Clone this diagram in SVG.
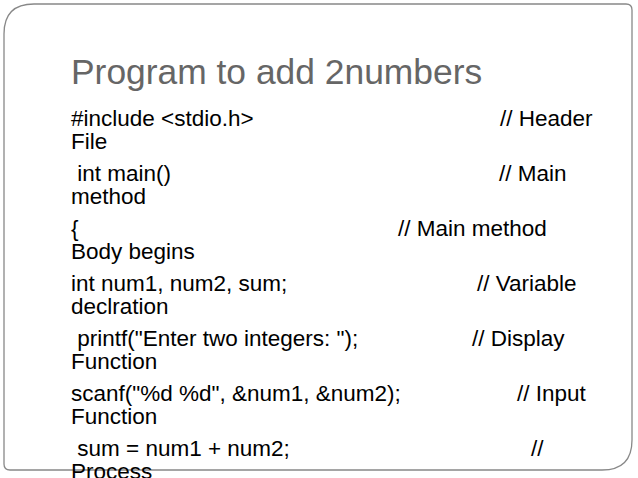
<svg xmlns="http://www.w3.org/2000/svg" width="638" height="478" viewBox="0 0 638 478">
<style>
.t{font-family:"Liberation Sans",Arial,sans-serif;font-size:35.4px;fill:#666}
.b{font-family:"Liberation Sans",Arial,sans-serif;font-size:22.5px;fill:#000;white-space:pre}
</style>
<rect width="638" height="478" fill="#fff"/>
<path d="M34 4 H626 Q632 4 632 10 V440 Q632 470 602 470 H10 Q4 470 4 464 V34 Q4 4 34 4 Z" fill="#fff" stroke="#888" stroke-width="1.3"/>
<g id="title"><text class="t" x="71" y="84">Program to add 2numbers</text></g>
<g id="body">
<text class="b" x="71" y="126">#include &lt;stdio.h&gt;</text><text class="b" x="500" y="126">// Header</text>
<text class="b" x="71" y="149">File</text>
<text class="b" x="71" y="181"> int main()</text><text class="b" x="499" y="181">// Main</text>
<text class="b" x="71" y="204">method</text>
<text class="b" x="71" y="236">{</text><text class="b" x="398" y="236">// Main method</text>
<text class="b" x="71" y="259">Body begins</text>
<text class="b" x="71" y="291">int num1, num2, sum;</text><text class="b" x="477" y="291">// Variable</text>
<text class="b" x="71" y="314">declration</text>
<text class="b" x="71" y="346"> printf("Enter two integers: ");</text><text class="b" x="472" y="346">// Display</text>
<text class="b" x="71" y="369">Function</text>
<text class="b" x="71" y="401">scanf("%d %d", &amp;num1, &amp;num2);</text><text class="b" x="517" y="401">// Input</text>
<text class="b" x="71" y="424">Function</text>
<text class="b" x="71" y="456"> sum = num1 + num2;</text><text class="b" x="531" y="456">//</text>
<text class="b" x="71" y="479">Process</text>
</g>
</svg>
